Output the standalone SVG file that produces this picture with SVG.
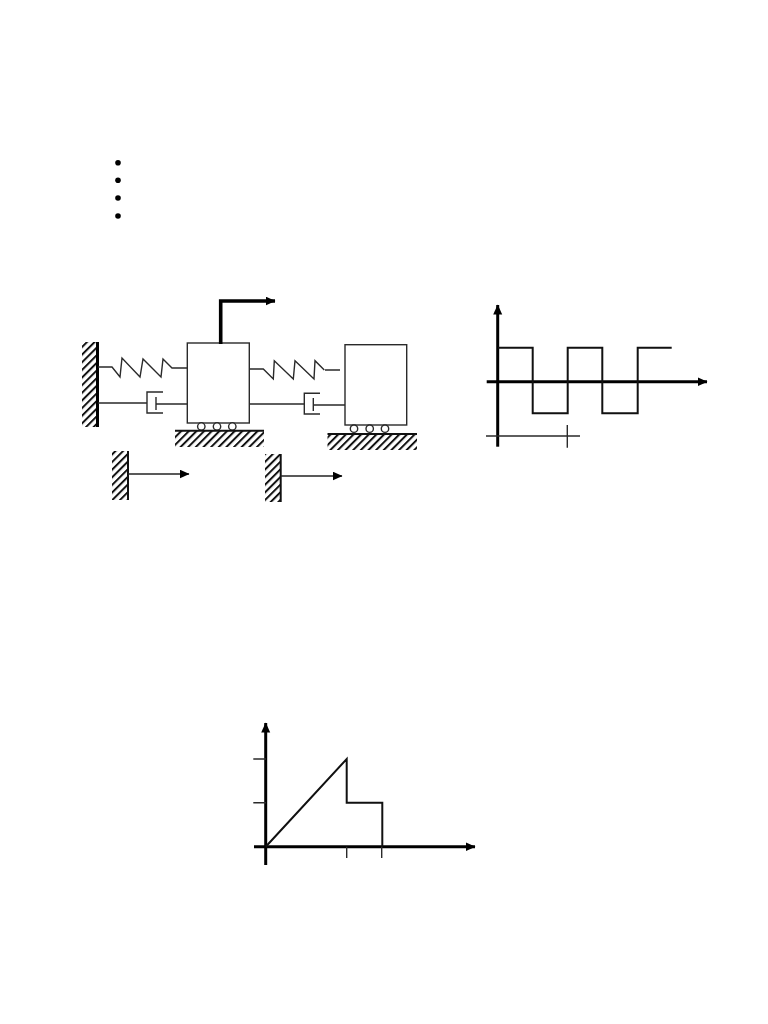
<svg xmlns="http://www.w3.org/2000/svg" width="768" height="1024" viewBox="0 0 768 1024">
<style>
.l{fill:none;stroke:#2a2a2a;stroke-width:1.4}
.m{fill:none;stroke:#111;stroke-width:2}
.t{fill:none;stroke:#000;stroke-width:3}
.x{fill:none;stroke:#000;stroke-width:3.6}
.g{fill:none;stroke:#222;stroke-width:1.4}
.b{fill:#fff;stroke:#2a2a2a;stroke-width:1.4}
.h{fill:url(#hatch)}
</style>
<defs>
<pattern id="hatch" patternUnits="userSpaceOnUse" width="5.4" height="5.4" patternTransform="rotate(45)">
<rect width="5.4" height="5.4" fill="#fff"/>
<rect x="0" width="2" height="5.4" fill="#111"/>
</pattern>
<marker id="ah" markerUnits="userSpaceOnUse" markerWidth="11" markerHeight="10" refX="9.5" refY="4.5" orient="auto">
<path d="M0 0L10 4.5L0 9Z" fill="#000"/>
</marker>
</defs>
<rect width="768" height="1024" fill="#fff"/>
<g id="bullets" fill="#000">
<circle cx="118" cy="162.7" r="2.8"/><circle cx="118" cy="180.3" r="2.8"/><circle cx="118" cy="198" r="2.8"/><circle cx="118" cy="216" r="2.8"/>
</g>
<g id="wall-left"><rect class="h" x="82" y="342" width="15" height="85"/><path class="t" d="M97.5 342V427"/></g>
<g id="mass-1"><rect class="b" x="187.3" y="343" width="62" height="80"/></g>
<g id="rollers-1"><circle class="b" cx="201.3" cy="426.5" r="3.7"/><circle class="b" cx="217" cy="426.5" r="3.7"/><circle class="b" cx="232.3" cy="426.5" r="3.7"/></g>
<g id="ground-1"><rect class="h" x="175" y="431" width="89" height="16"/><path class="m" d="M175 430.7H264"/></g>
<g id="mass-2"><rect class="b" x="345" y="344.7" width="61.7" height="80.3"/></g>
<g id="rollers-2"><circle class="b" cx="354" cy="428.7" r="3.7"/><circle class="b" cx="369.7" cy="428.7" r="3.7"/><circle class="b" cx="385" cy="428.7" r="3.7"/></g>
<g id="ground-2"><rect class="h" x="327.5" y="434" width="89.5" height="16"/><path class="m" d="M327.5 434H417"/></g>
<g id="wall-bottom-1"><rect class="h" x="112" y="451" width="16" height="49"/><path class="m" d="M128 451V500"/></g>
<g id="wall-bottom-2"><rect class="h" x="265" y="454" width="15.7" height="48"/><path class="m" d="M280.7 454V502"/></g>
<g id="connectors">
<path class="l" d="M98 367H112L120 377L122 358L140 377L143 359L161 377L163 359L172 368H187"/>
<path class="l" d="M98 403H147M163 392H147V413H163M156 397V410M156 404H187"/>
<path class="l" d="M249.5 369H263.3L273.3 379L274.3 360.7L293.3 379L295 360.7L314 379L315 360.7L324.3 370M325 370H340"/>
<path class="l" d="M249.5 404H304.3M320 393.3H304.3V414H320M313.3 398V411M313.3 405H345"/>
<path class="x" d="M220.7 344V301H275" marker-end="url(#ah)"/>
<path class="g" d="M128 474H189" marker-end="url(#ah)"/>
<path class="g" d="M280.7 476H342" marker-end="url(#ah)"/>
</g>
<g id="square-wave-chart">
<path class="t" d="M497.7 446.7V305" marker-end="url(#ah)"/>
<path class="t" d="M486.7 381.7H707" marker-end="url(#ah)"/>
<path class="m" d="M498 347.7H532.7V413.3H567.7V347.7H602.3V413.3H637.7V347.7H671.7"/>
<path class="l" d="M486 436H580M567.3 425V447.7"/>
</g>
<g id="load-chart">
<path class="t" d="M265.7 865V723" marker-end="url(#ah)"/>
<path class="t" d="M254 846.7H475" marker-end="url(#ah)"/>
<path class="m" d="M265.7 846.7L346.7 759V802.7H382.3V846.7"/>
<path class="l" d="M253.3 759H266M253.3 802.7H266M346.7 846.7V858M381.7 846.7V858"/>
</g>
</svg>
